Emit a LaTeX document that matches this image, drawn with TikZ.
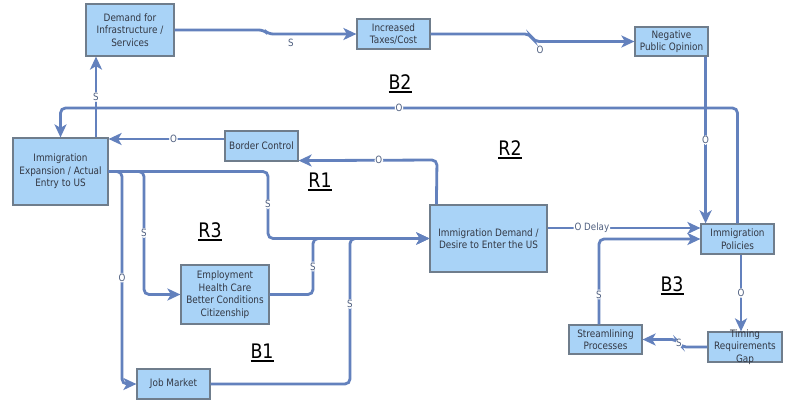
\documentclass[tikz,border=0pt]{standalone}
\usepackage{fontspec}
\setmainfont{DejaVu Sans}[FakeStretch=0.87]
\usetikzlibrary{arrows.meta,calc}
\definecolor{boxfill}{HTML}{A9D3F7}
\definecolor{boxline}{HTML}{6F7D8C}
\definecolor{conn}{HTML}{6381BD}
\definecolor{txt}{HTML}{333844}
\definecolor{labc}{HTML}{506080}
\newcommand\looptxt[1]{\setbox0\hbox{#1}\usebox0\llap{\rule[-3pt]{\wd0}{1.5pt}}}
\begin{document}
\begin{tikzpicture}[x=1pt,y=-1pt,
 box/.style={draw=boxline, fill=boxfill, line width=1.2pt, inner sep=0pt, align=center, font=\fontsize{10.2}{12.5}\selectfont, text=txt},
 boxtext/.style={inner sep=0pt, align=center, font=\fontsize{10.2}{12.5}\selectfont, text=txt},
 arr/.style={draw=conn, line width=2.8pt, rounded corners=5pt, -{Stealth[length=13pt,width=12pt,inset=3.5pt]}},
 lab/.style={fill=white, inner sep=1pt, text=labc, font=\fontsize{10}{11}\selectfont},
 loopl/.style={font=\fontsize{20}{22}\selectfont, text=black}]
\useasboundingbox (0,0) rectangle (800,412);
\fill[white] (0,0) rectangle (800,412);

% nodes
\node[box, minimum width=88pt, minimum height=52pt] (infra) at (130,30) {Demand for\\Infrastructure /\\Services};
\node[box, minimum width=73pt, minimum height=30pt] (tax) at (393.5,34) {Increased\\Taxes/Cost};
\node[box, minimum width=73pt, minimum height=29pt] (neg) at (671.5,41.5) {Negative\\Public Opinion};
\node[box, minimum width=95pt, minimum height=67pt] (exp) at (60.5,171.5) {Immigration\\Expansion / Actual\\Entry to US};
\node[box, minimum width=73pt, minimum height=30pt] (bc) at (261.5,146) {Border Control};
\node[box, minimum width=117pt, minimum height=67pt] (want) at (488.5,238.5) {Immigration Demand /\\Desire to Enter the US};
\node[box, minimum width=88pt, minimum height=59pt] (emp) at (225,294.5) {Employment\\Health Care\\Better Conditions\\Citizenship};
\node[box, minimum width=73pt, minimum height=30pt] (job) at (173.5,384) {Job Market};
\node[box, minimum width=73pt, minimum height=30pt] (pol) at (737.5,239) {Immigration\\Policies};
\node[box, minimum width=74pt, minimum height=30pt] (tim) at (745,347) {};
\node[boxtext] (timtext) at (tim.center) {Timing\\Requirements\\Gap};
\node[box, minimum width=73pt, minimum height=29pt] (str) at (605.5,339.5) {Streamlining\\Processes};

% connectors
\draw[arr] ([xshift=35.5pt]exp.north) -- node[lab,pos=0.5]{S} ([xshift=35.5pt]exp.north |- infra.south);
\draw[arr] (infra.east) -- (264,30) -- (268,34) -- node[lab,pos=0.26,below=3pt]{S} (tax.west);
\draw[arr] (tax.east) -- (530,34) -- (534,41.5) -- node[lab,pos=0.06,below=2pt]{O} (neg.west);
\draw[arr] (pol.north) -- (737.5,108) -- node[lab]{O} (60.5,108) -- (exp.north);
\draw[arr] ([xshift=-3pt]neg.south east) -- node[lab,pos=0.5]{O} ([xshift=-3pt]neg.south east |- pol.north);
\draw[arr] ([yshift=7pt]bc.west) -- node[lab,pos=0.44]{O} ([yshift=7pt]bc.west -| exp.east);
\draw[arr] ([xshift=7pt]want.north west) -- (437,160) -- node[lab,pos=0.42]{O} ([yshift=1pt]bc.south east);
\draw[arr] (exp.east) -- (268,171.5) -- node[lab,pos=0.49]{S} (268,238.5) -- (want.west);
\draw[arr] (exp.east) -- (144,171.5) -- node[lab,pos=0.5]{S} (144,294.5) -- (emp.west);
\draw[arr] (exp.east) -- (122,171.5) -- node[lab,pos=0.5]{O} (122,384) -- (job.west);
\draw[arr] (emp.east) -- (313,294.5) -- node[lab,pos=0.5]{S} (313,238.5) -- (want.west);
\draw[arr] (job.east) -- (350,384) -- node[lab,pos=0.55]{S} (350,238.5) -- (want.west);
\draw[arr] ([yshift=10.5pt]want.east) -- node[lab,pos=0.29]{O Delay} ([yshift=10.5pt]want.east -| pol.west);
\draw[arr] ([xshift=-6.5pt]str.north) -- node[lab,pos=0.35]{S} ([xshift=-6.5pt]str.north |- pol.west) -- (pol.west);
\draw[arr] ([xshift=3.5pt]pol.south) -- node[lab]{O} ([xshift=3.5pt]pol.south |- tim.north);
\draw[arr] (tim.west) -- (681,347) -- node[lab,pos=0.5]{S} (677,339.5) -- (str.east);

% loop labels
\node[loopl] (b2) at (400,84) {\looptxt{B2}};
\node[loopl] (r2) at (510,150) {\looptxt{R2}};
\node[loopl] (r1) at (320,182) {\looptxt{R1}};
\node[loopl] (r3) at (210,232) {\looptxt{R3}};
\node[loopl] (b1) at (262,353) {\looptxt{B1}};
\node[loopl] (b3) at (672,286) {\looptxt{B3}};
\end{tikzpicture}
\end{document}
